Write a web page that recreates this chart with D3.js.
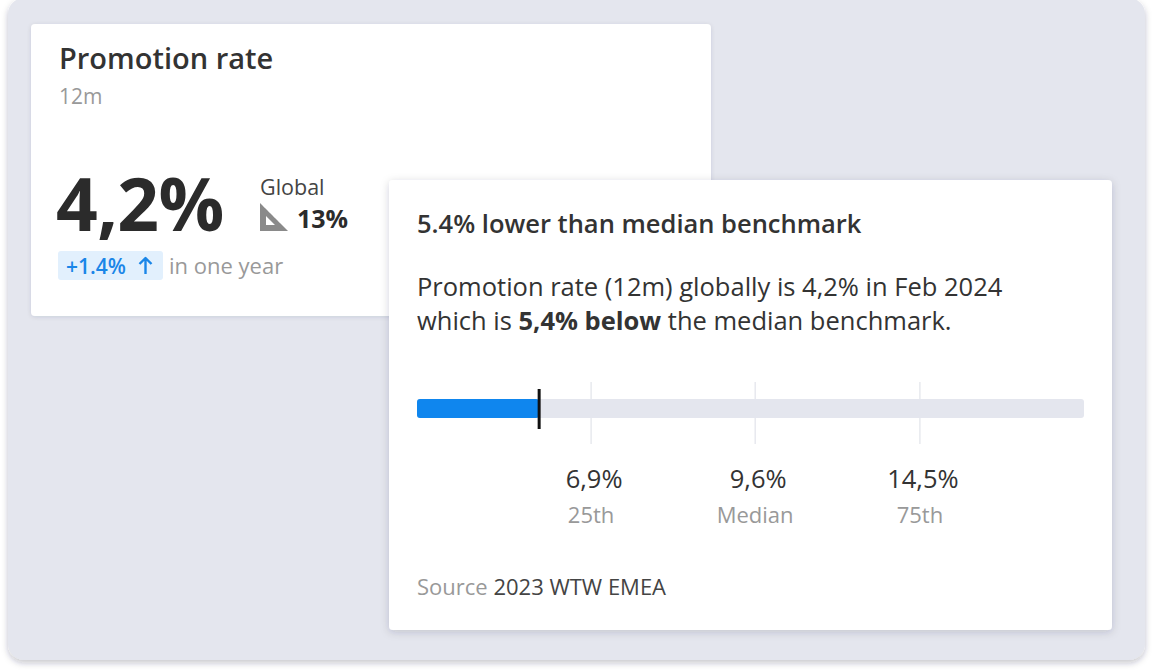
<!DOCTYPE html>
<html lang="en">
<head>
    <meta charset="UTF-8">
    <title>Promotion rate</title>
    <style>
        html, body { margin: 0; padding: 0; background: #fff; }
        svg { display: block; font-family: "Open Sans", "Noto Sans", sans-serif; }
    </style>
</head>
<body>
    <div id="wrapper"></div>
    <script src="https://d3js.org/d3.v7.min.js"></script>
    <script>
        // data
        const metricTitle = 'Promotion rate';
        const metricPeriod = '12m';
        const metricValue = 4.2;
        const globalValue = 13;
        const yearChange = 1.4;
        const benchmarkLabels = ['25th', 'Median', '75th'];
        const benchmarkValues = [6.9, 9.6, 14.5];
        const scaleStops = [0, 6.9, 9.6, 14.5, 19.4]; // piecewise domain of the bar
        const sourceText = '2023 WTW EMEA';

        const comma = v => d3.format('.1f')(v).replace('.', ',');
        const diff = +(benchmarkValues[1] - metricValue).toFixed(1);

        const width = 1152, height = 672;
        const svg = d3.select('#wrapper').append('svg')
            .attr('width', width).attr('height', height);

        const defs = svg.append('defs');
        function shadow(id, dy, blur, op) {
            const f = defs.append('filter').attr('id', id)
                .attr('x', '-10%').attr('y', '-10%').attr('width', '120%').attr('height', '130%');
            f.append('feDropShadow').attr('dx', 0).attr('dy', dy)
                .attr('stdDeviation', blur).attr('flood-color', '#202840').attr('flood-opacity', op);
        }
        shadow('panelShadow', 3, 3, 0.25);
        shadow('cardShadow', 1, 2, 0.12);
        shadow('tipShadow', 2, 4, 0.18);

        // gray panel
        svg.append('rect')
            .attr('x', 8).attr('y', -2).attr('width', 1137).attr('height', 662)
            .attr('rx', 16).attr('fill', '#e4e6ee')
            .attr('filter', 'url(#panelShadow)');

        // left card
        const card = svg.append('g');
        card.append('rect')
            .attr('x', 31).attr('y', 24).attr('width', 680).attr('height', 292)
            .attr('rx', 4).attr('fill', '#fff').attr('filter', 'url(#cardShadow)');

        card.append('text').attr('x', 59).attr('y', 69)
            .attr('font-size', 29).attr('font-weight', 600).attr('fill', '#333')
            .text(metricTitle);
        card.append('text').attr('x', 59).attr('y', 104)
            .attr('font-size', 21).attr('fill', '#999')
            .text(metricPeriod);

        card.append('text').attr('x', 56).attr('y', 231)
            .attr('font-size', 73).attr('font-weight', 700).attr('fill', '#2b2b2b')
            .attr('letter-spacing', -0.6)
            .text(comma(metricValue) + '%');

        card.append('text').attr('x', 260).attr('y', 195)
            .attr('font-size', 21.5).attr('fill', '#444')
            .text('Global');

        // set-square icon
        const ic = card.append('g').attr('transform', 'translate(260,203)');
        ic.append('path')
            .attr('d', 'M0,0 L28,28 L0,28 Z M6,13 L6,22 L15,22 Z')
            .attr('fill', '#8a8a8a').attr('fill-rule', 'evenodd');
        d3.range(4).forEach(i => {
            ic.append('line')
                .attr('x1', 4 + i * 5).attr('y1', 4 + i * 5)
                .attr('x2', 7 + i * 5).attr('y2', 1 + i * 5)
                .attr('stroke', '#fff').attr('stroke-width', 1.3);
        });

        card.append('text').attr('x', 297).attr('y', 228)
            .attr('font-size', 25).attr('font-weight', 700).attr('fill', '#2b2b2b')
            .text(globalValue + '%');

        // change badge
        card.append('rect')
            .attr('x', 58).attr('y', 251).attr('width', 105).attr('height', 29)
            .attr('rx', 3).attr('fill', '#e2f0fd');
        card.append('text').attr('x', 66).attr('y', 274)
            .attr('font-size', 21).attr('font-weight', 600).attr('fill', '#1a86e8')
            .text('+' + yearChange.toFixed(1) + '%');
        card.append('path')
            .attr('d', 'M145.5,274 L145.5,258 M139.5,264 L145.5,258 L151.5,264')
            .attr('fill', 'none').attr('stroke', '#1a86e8')
            .attr('stroke-width', 2.4).attr('stroke-linejoin', 'round');
        card.append('text').attr('x', 169).attr('y', 274)
            .attr('font-size', 22).attr('fill', '#999')
            .text('in one year');

        // tooltip card
        const tip = svg.append('g');
        tip.append('rect')
            .attr('x', 389).attr('y', 180).attr('width', 723).attr('height', 450)
            .attr('rx', 4).attr('fill', '#fff').attr('filter', 'url(#tipShadow)');

        tip.append('text').attr('x', 417).attr('y', 233)
            .attr('font-size', 25.5).attr('font-weight', 600).attr('fill', '#333')
            .text(diff.toFixed(1) + '% lower than median benchmark');

        tip.append('text').attr('x', 417).attr('y', 296)
            .attr('font-size', 25.5).attr('fill', '#333')
            .text(`${metricTitle} (${metricPeriod}) globally is ${comma(metricValue)}% in Feb 2024`);
        const l2 = tip.append('text').attr('x', 417).attr('y', 330)
            .attr('font-size', 25.5).attr('fill', '#333');
        l2.append('tspan').text('which is ');
        l2.append('tspan').attr('font-weight', 700).text(comma(diff) + '% below');
        l2.append('tspan').text(' the median benchmark.');

        // benchmark bar
        const barX = 417, barW = 667, barY = 399, barH = 19;
        const rangeFrac = [0.062, 0.261, 0.507, 0.754, 1];
        const x = d3.scaleLinear()
            .domain(scaleStops)
            .range(rangeFrac.map(f => barX + f * barW))
            .clamp(true);

        const bar = tip.append('g');
        bar.selectAll('line.grid')
            .data(benchmarkValues)
            .join('line').attr('class', 'grid')
            .attr('x1', d => x(d)).attr('x2', d => x(d))
            .attr('y1', 382).attr('y2', 444)
            .attr('stroke', '#e1e3ea').attr('stroke-width', 1.2);

        bar.append('rect')
            .attr('x', barX).attr('y', barY).attr('width', barW).attr('height', barH)
            .attr('rx', 3).attr('fill', '#e4e6ee');
        bar.append('rect')
            .attr('x', barX).attr('y', barY)
            .attr('width', x(metricValue) - barX).attr('height', barH)
            .attr('rx', 3).attr('fill', '#0f86ee');
        bar.append('line')
            .attr('x1', x(metricValue)).attr('x2', x(metricValue))
            .attr('y1', 389).attr('y2', 429)
            .attr('stroke', '#111').attr('stroke-width', 3);

        bar.selectAll('text.val')
            .data(benchmarkValues)
            .join('text').attr('class', 'val')
            .attr('x', d => x(d) + 3).attr('y', 488)
            .attr('text-anchor', 'middle')
            .attr('font-size', 25.5).attr('fill', '#333')
            .text(d => comma(d) + '%');
        bar.selectAll('text.lab')
            .data(benchmarkLabels)
            .join('text').attr('class', 'lab')
            .attr('x', (d, i) => x(benchmarkValues[i])).attr('y', 523)
            .attr('text-anchor', 'middle')
            .attr('font-size', 22).attr('fill', '#999')
            .text(d => d);

        const src = tip.append('text').attr('x', 417).attr('y', 595)
            .attr('font-size', 22);
        src.append('tspan').attr('fill', '#999').text('Source ');
        src.append('tspan').attr('fill', '#444').text(sourceText);
    </script>
</body>
</html>
